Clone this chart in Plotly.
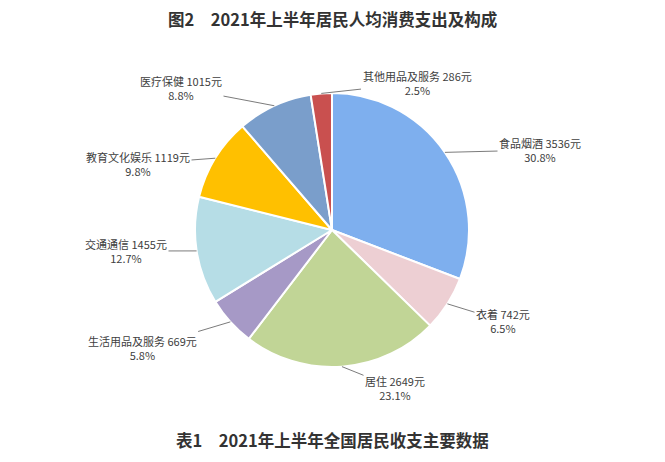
import math
import plotly.graph_objects as go

categories = ["食品烟酒", "衣着", "居住", "生活用品及服务", "交通通信", "教育文化娱乐", "医疗保健", "其他用品及服务"]
values = [3536, 742, 2649, 669, 1455, 1119, 1015, 286]
percents = ["30.8%", "6.5%", "23.1%", "5.8%", "12.7%", "9.8%", "8.8%", "2.5%"]
colors = ["#7EAFEE", "#EDCFD3", "#C1D596", "#A699C6", "#B6DDE6", "#FFC000", "#7A9ECB", "#C9504F"]

W, H = 665, 462
OFF = 8  # page body margin
CX, CY, R = 332 - OFF, 230 - OFF, 137
# label block centres (pixels in window), layout only
label_pos = [(540, 150), (503, 321), (395, 388), (143, 348), (126, 251), (138, 164), (181, 88), (417, 83)]

fig = go.Figure(go.Pie(
    labels=categories, values=values, sort=False, direction="clockwise", rotation=0,
    marker=dict(colors=colors, line=dict(color="white", width=2)),
    textinfo="none", hoverinfo="label+value+percent", showlegend=False,
    domain=dict(x=[(CX - R) / W, (CX + R) / W], y=[(H - CY - R) / H, (H - CY + R) / H]),
))

total = sum(values)
cum = 0
annotations = []
for cat, v, p, (lx, ly) in zip(categories, values, percents, label_pos):
    lx, ly = lx - OFF, ly - OFF
    mid = (cum + v / 2) / total * 2 * math.pi
    cum += v
    ex = CX + R * math.sin(mid)
    ey = CY - R * math.cos(mid)
    annotations.append(dict(
        x=ex / W, y=1 - ey / H, xref="paper", yref="paper",
        ax=lx - ex, ay=ly - ey,
        text=f"{cat} {v}元<br>{p}", showarrow=True, arrowhead=0, arrowwidth=0.8,
        arrowcolor="#595959", standoff=0,
        font=dict(family="Noto Sans CJK SC", size=11, color="#404040"),
        align="center",
    ))

annotations.append(dict(x=(332 - OFF) / W, y=1 - (19 - OFF) / H, xref="paper", yref="paper", showarrow=False,
                        xanchor="center", yanchor="middle",
                        text="<b>图2　2021年上半年居民人均消费支出及构成</b>",
                        font=dict(family="Noto Sans CJK SC", size=16.5, color="#333333")))
annotations.append(dict(x=(332 - OFF) / W, y=1 - (440 - OFF) / H, xref="paper", yref="paper", showarrow=False,
                        xanchor="center", yanchor="middle",
                        text="<b>表1　2021年上半年全国居民收支主要数据</b>",
                        font=dict(family="Noto Sans CJK SC", size=16.5, color="#333333")))

fig.update_layout(width=W, height=H, margin=dict(l=0, r=0, t=0, b=0),
                  paper_bgcolor="white", plot_bgcolor="white", annotations=annotations)
fig.write_html("out.html")
